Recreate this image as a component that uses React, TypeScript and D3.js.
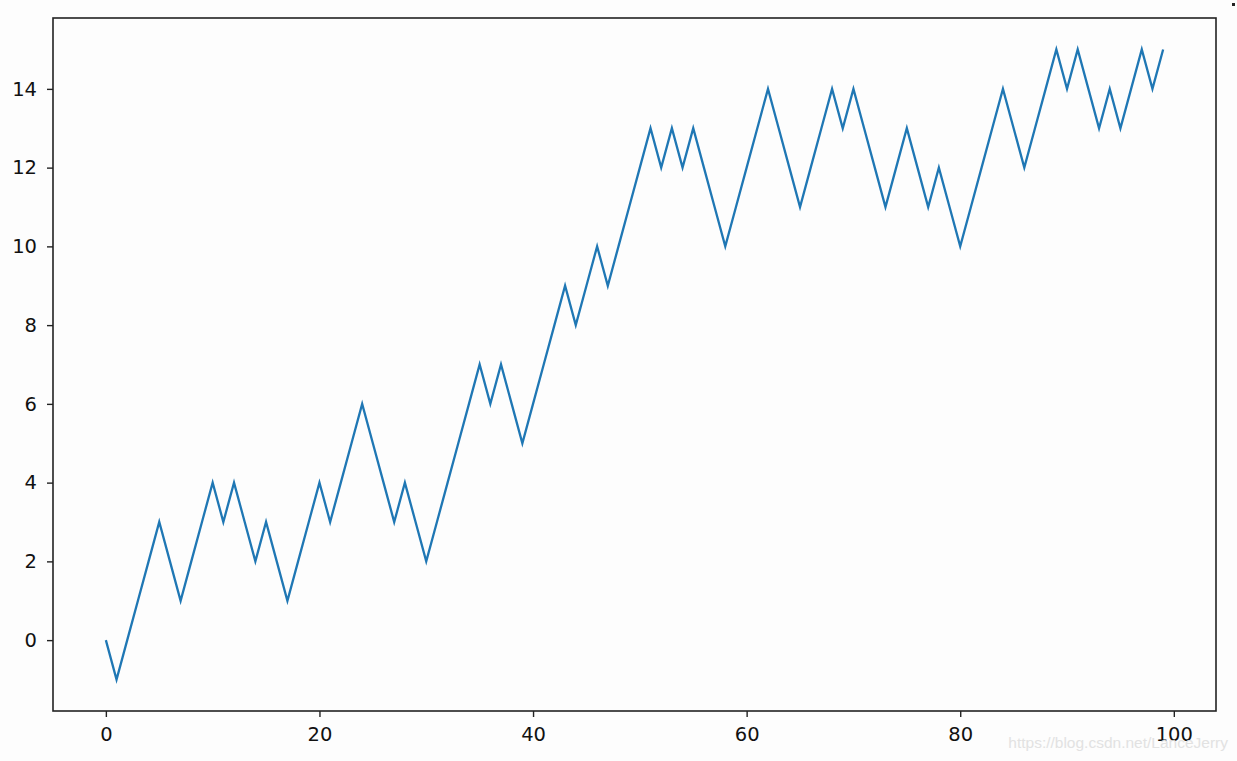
import React, { useEffect, useRef } from 'react';
import * as d3 from 'd3';

// random walk positions, one per step 0..99
const walkValues: number[] = [
  0, -1, 0, 1, 2, 3, 2, 1, 2, 3,
  4, 3, 4, 3, 2, 3, 2, 1, 2, 3,
  4, 3, 4, 5, 6, 5, 4, 3, 4, 3,
  2, 3, 4, 5, 6, 7, 6, 7, 6, 5,
  6, 7, 8, 9, 8, 9, 10, 9, 10, 11,
  12, 13, 12, 13, 12, 13, 12, 11, 10, 11,
  12, 13, 14, 13, 12, 11, 12, 13, 14, 13,
  14, 13, 12, 11, 12, 13, 12, 11, 12, 11,
  10, 11, 12, 13, 14, 13, 12, 13, 14, 15,
  14, 15, 14, 13, 14, 13, 14, 15, 14, 15,
];
const xTicks = [0, 20, 40, 60, 80, 100];
const yTicks = [0, 2, 4, 6, 8, 10, 12, 14];

const W = 1237;
const H = 761;
const margin = { top: 18, right: 21, bottom: 50, left: 53 };
const lineColor = '#1f77b4';
const font = 'DejaVu Sans, sans-serif';

export default function App() {
  const svgRef = useRef<SVGSVGElement>(null);

  useEffect(() => {
    if (!svgRef.current) return;
    const svg = d3.select(svgRef.current);
    svg.selectAll('*').remove();

    const innerW = W - margin.left - margin.right;
    const innerH = H - margin.top - margin.bottom;

    // matplotlib style 5% padding on the data range
    const n = walkValues.length;
    const xPad = (n - 1) * 0.05;
    const yMin = d3.min(walkValues) as number;
    const yMax = d3.max(walkValues) as number;
    const yPad = (yMax - yMin) * 0.05;

    const x = d3.scaleLinear().domain([-xPad, n - 1 + xPad]).range([0, innerW]);
    const y = d3.scaleLinear().domain([yMin - yPad, yMax + yPad]).range([innerH, 0]);

    svg.append('rect').attr('width', W).attr('height', H).attr('fill', '#fdfdfd');

    const g = svg.append('g').attr('transform', `translate(${margin.left},${margin.top})`);

    const line = d3.line<number>()
      .x((_, i) => x(i))
      .y(d => y(d));

    g.append('path')
      .datum(walkValues)
      .attr('d', line)
      .attr('fill', 'none')
      .attr('stroke', lineColor)
      .attr('stroke-width', 2.3)
      .attr('stroke-linejoin', 'miter');

    const xAxis = g.append('g')
      .attr('transform', `translate(0,${innerH})`)
      .call(d3.axisBottom(x).tickValues(xTicks).tickSize(6).tickPadding(10).tickFormat(d3.format('d')));
    const yAxis = g.append('g')
      .call(d3.axisLeft(y).tickValues(yTicks).tickSize(6).tickPadding(10).tickFormat(d3.format('d')));

    [xAxis, yAxis].forEach(a => {
      a.select('.domain').remove();
      a.selectAll('line').attr('stroke', '#222').attr('stroke-width', 1.4);
      a.selectAll('text')
        .attr('font-family', font)
        .attr('font-size', 19.5)
        .attr('fill', '#111');
    });

    // axes frame
    g.append('rect')
      .attr('width', innerW)
      .attr('height', innerH)
      .attr('fill', 'none')
      .attr('stroke', '#222')
      .attr('stroke-width', 1.6);

    // watermark
    svg.append('text')
      .attr('x', 1228)
      .attr('y', 748)
      .attr('text-anchor', 'end')
      .attr('font-family', 'Liberation Sans, Arial, sans-serif')
      .attr('font-size', 15.5)
      .attr('fill', '#e2e2e2')
      .text('https://blog.csdn.net/LanceJerry');

    // small mark in the top right corner
    svg.append('rect')
      .attr('x', 1232).attr('y', 3).attr('width', 3).attr('height', 3)
      .attr('fill', '#222');
  }, []);

  return (
    <div style={{ position: 'fixed', left: 0, top: 0 }}>
      <svg ref={svgRef} width={W} height={H} style={{ display: 'block' }} />
    </div>
  );
}
